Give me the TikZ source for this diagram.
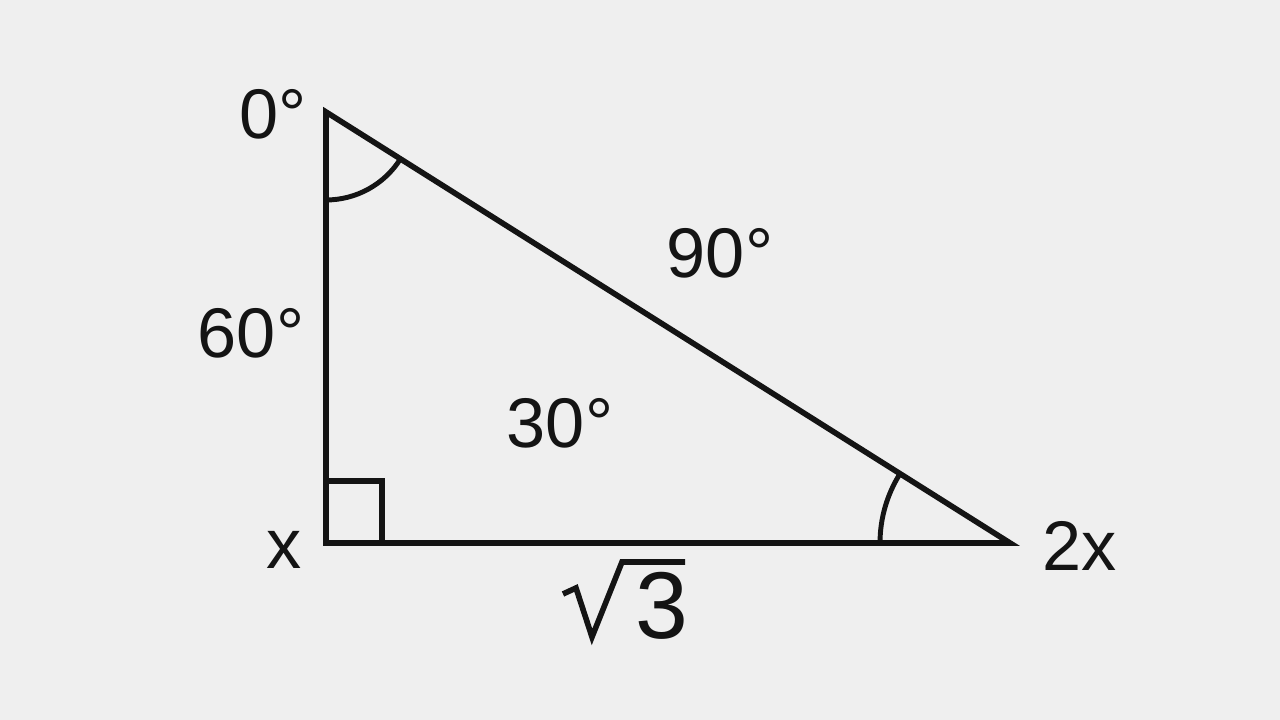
\documentclass[tikz,border=0pt]{standalone}
\usepackage{fontspec}
\setmainfont{Liberation Sans}
\definecolor{paper}{RGB}{239,239,239}
\definecolor{ink}{RGB}{20,20,20}
\begin{document}
\begin{tikzpicture}[edge/.style={draw=ink,line width=1.6pt,line join=miter},
    lbl/.style={text=ink,inner sep=0pt,font=\fontsize{20}{22}\selectfont},
    angmark/.style={draw=ink,line width=1.4pt}]

    %paper
    \useasboundingbox[fill=paper] (0,0) rectangle (12.8,7.2);

    %vertices
    \coordinate (A) at (3.26,6.08);
    \coordinate (B) at (3.26,1.77);
    \coordinate (C) at (10.10,1.77);

    %sides
    \draw [edge] (A) -- (B) -- (C) -- cycle;

    %right angle
    \draw [edge,line width=1.5pt] ([yshift=0.62cm]B) -| ([xshift=0.56cm]B);

    %angle arcs
    \draw [angmark] ([shift={(270:0.88)}]A) arc (270:327.8:0.88);
    \draw [angmark] ([shift={(180:1.30)}]C) arc (180:147.8:1.30);

    %labels
    \node (L0) at (2.73,6.06)[lbl]{0°};
    \node (L60) at (2.51,3.87)[lbl]{60°};
    \node (L90) at (7.20,4.67)[lbl]{90°};
    \node (L30) at (5.60,2.97)[lbl]{30°};
    \node (Lx) at (2.84,1.70)[lbl]{x};
    \node (L2x) at (10.80,1.74)[lbl]{2x};
    \node (L3) at (6.62,1.14)[lbl,font=\fontsize{27}{30}\selectfont]{3};

    %radical
    \draw [ink,line width=1.6pt,line join=miter] (5.63,1.26) -- (5.76,1.32) -- (5.92,0.83) -- (6.22,1.58) -- (6.85,1.58);
\end{tikzpicture}
\end{document}
